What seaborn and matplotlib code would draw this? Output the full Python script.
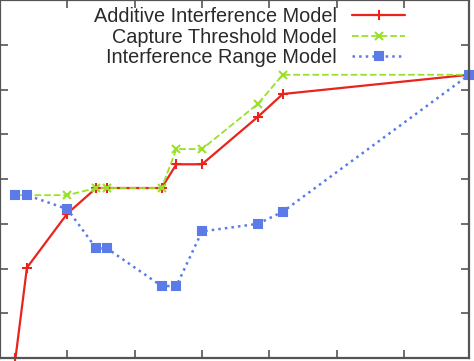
import numpy as np
import pandas as pd
import matplotlib
matplotlib.use('Agg')
import matplotlib.pyplot as plt
import seaborn as sns

# x positions (in tick units) of the measured points
x_vals = [0.23, 0.40, 1.0, 1.43, 1.59, 2.40, 2.62, 3.0, 3.83, 4.2, 6.97]

additive = [0.0, 2.02, 3.23, 3.80, 3.80, 3.80, 4.33, 4.33, 5.39, 5.90, 6.33]
capture = [3.64, 3.64, 3.64, 3.80, 3.80, 3.80, 4.67, 4.67, 5.68, 6.33, 6.33]
irange = [3.64, 3.64, 3.33, 2.45, 2.45, 1.61, 1.61, 2.83, 3.00, 3.27, 6.33]

labels = ['Additive Interference Model', 'Capture Threshold Model',
          'Interference Range Model']

df = pd.DataFrame({'x': x_vals * 3,
                   'y': additive + capture + irange,
                   'model': [labels[0]] * 11 + [labels[1]] * 11 + [labels[2]] * 11})

sns.set_style('white')
plt.rcParams['font.family'] = ['Liberation Sans', 'DejaVu Sans']

fig = plt.figure(figsize=(4.74, 3.61), dpi=100)
ax = fig.add_axes([0.0, 0.008, 0.99, 0.992])

colors = {labels[0]: '#e8241c', labels[1]: '#9ae02a', labels[2]: '#5b7be8'}
styles = {labels[0]: ('-', '+', 7, 1.6), labels[1]: ('--', 'x', 6, 1.3),
          labels[2]: (':', 's', 5.5, 1.8)}

for lab in labels:
    sub = df[df['model'] == lab]
    ls, mk, ms, lw = styles[lab]
    sns.lineplot(data=sub, x='x', y='y', ax=ax, color=colors[lab], linestyle=ls,
                 marker=mk, markersize=ms, linewidth=lw, markeredgewidth=1.5,
                 markeredgecolor=colors[lab], label=lab, clip_on=False,
                 estimator=None, sort=False)

ax.set_xlim(0, 6.97)
ax.set_ylim(0, 8)
ax.set_xticks(range(0, 7))
ax.set_yticks(range(0, 9))
ax.set_xticklabels([])
ax.set_yticklabels([])
ax.set_xlabel('')
ax.set_ylabel('')
ax.tick_params(direction='in', length=6, width=1.2, color='#555555',
               top=True, right=True, bottom=True, left=True)
for s in ax.spines.values():
    s.set_color('#555555')
    s.set_linewidth(1.6)

leg = ax.legend(loc='upper right', bbox_to_anchor=(0.88, 1.002), frameon=False,
                fontsize=14.3, markerfirst=False, handlelength=2.65,
                labelspacing=0.07, borderaxespad=0.0, handletextpad=0.78)
for t in leg.get_texts():
    t.set_color('#2a2a2a')
    t.set_ha('right')
leg._legend_box.align = 'right'

fig.savefig('out.png', dpi=100)
